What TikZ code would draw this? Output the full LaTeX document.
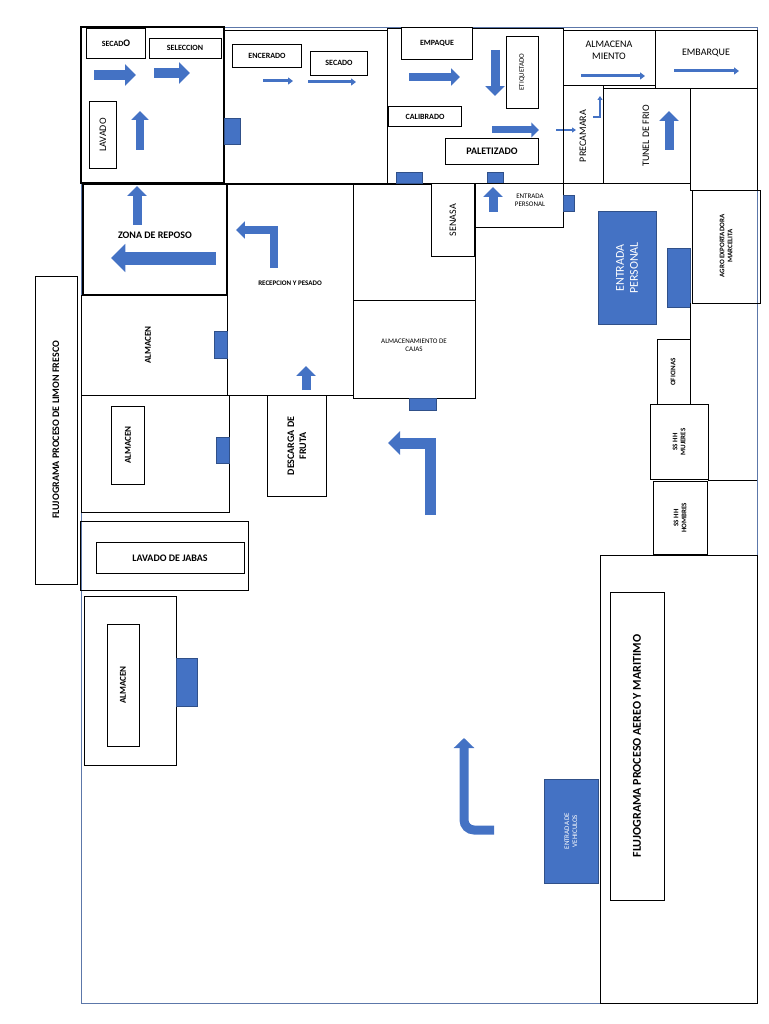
\documentclass[tikz,border=0pt]{standalone}
\usepackage{fontspec}
\setmainfont{Carlito}
\usetikzlibrary{arrows.meta}
\definecolor{flow}{HTML}{4472C4}
\tikzset{
  room/.style={draw=black, line width=0.8pt},
  lbl/.style={draw=black, line width=1pt, fill=white, align=center, font=\bfseries\footnotesize},
  door/.style={fill=flow, draw=flow!70!black},
  fat/.style={flow, line width=#1, -{Triangle[width=2.1*#1, length=1.1*#1]}},
  thin/.style={flow, line width=3pt, -{Triangle[width=7pt, length=5pt]}},
}
\begin{document}
\begin{tikzpicture}[x=1pt, y=-1pt]
\useasboundingbox (0,0) rectangle (768,1024);
% outer frame
\draw[flow!60!gray, line width=0.8pt] (81,27) rectangle (757,1003);
% top row
\draw[room, line width=1.2pt] (81,27) rectangle (224,183);
\node[lbl, minimum width=59pt, minimum height=30pt, line width=0.6pt] (secado1) at (116,43) {SECAD\normalsize O};
\node[lbl, minimum width=72pt, minimum height=20pt, line width=0.6pt] (seleccion) at (185,48) {SELECCION};
\node[lbl, minimum width=67pt, minimum height=27pt, rotate=90, font=\normalsize] (lavado) at (103,135) {LAVADO};
\draw[fat=10pt] (94,75) -- (136,75);
\draw[fat=10pt] (154,73) -- (190,73);
\draw[fat=8pt] (140,150) -- (140,111);
\draw[room] (224,30) rectangle (387,183);
\node[lbl, minimum width=69pt, minimum height=23pt] (encerado) at (267,56) {ENCERADO};
\node[lbl, minimum width=57pt, minimum height=24pt, line width=0.8pt] (secado2) at (339,63) {SECADO};
\draw[thin] (263,81) -- (293,81);
\draw[thin] (308,82) -- (356,82);
\draw[door] (224,118) rectangle (240,144);
\draw[room] (387,28) rectangle (563,183);
\node[lbl, minimum width=71pt, minimum height=32pt, line width=0.6pt] (empaque) at (437,43) {EMPAQUE};
\node[lbl, minimum width=72pt, minimum height=32pt, rotate=90, font=\scriptsize, line width=0.6pt] (etiquetado) at (522,72) {ETIQUETADO};
\node[lbl, minimum width=73pt, minimum height=20pt] (calibrado) at (425,117) {CALIBRADO};
\node[lbl, minimum width=93pt, minimum height=26pt, font=\bfseries\normalsize, line width=0.6pt] (paletizado) at (492,151) {PALETIZADO};
\draw[fat=8pt] (409,77) -- (460,77);
\draw[fat=9pt] (495,50) -- (495,96);
\draw[fat=7pt] (492,130) -- (539,130);
\draw[flow, line width=1.5pt, -{Triangle[width=5pt, length=4pt]}] (556,130) -- (576,130);
\draw[door] (396,172) rectangle (422,183);
\draw[door] (487,172) rectangle (503,183);
\draw[room] (563,30) rectangle (655,85);
\node[align=center, font=\normalsize] (almacenamiento) at (609,50) {ALMACENA\\MIENTO};
\draw[thin] (581,76) -- (645,76);
\draw[room] (655,30) rectangle (757,88);
\node[font=\normalsize] (embarque) at (706,53) {EMBARQUE};
\draw[thin] (674,71) -- (739,71);
\draw[room] (563,85) rectangle (603,183);
\node[rotate=90, font=\normalsize] (precamara) at (583,136) {PRECAMARA};
\draw[flow, line width=1.5pt, -{Triangle[width=5pt, length=4pt]}] (593,117) -- (600,117) -- (600,96);
\draw[room] (603,88) rectangle (690,183);
\node[rotate=90, font=\normalsize] (tunel) at (646,136) {TUNEL DE FRIO};
\draw[fat=9pt] (669,150) -- (669,111);
\draw[room] (690,88) rectangle (757,190);
\draw[room] (692,190) rectangle (760,303);
\node[rotate=90, font=\bfseries\scriptsize, align=center] (agro) at (726,246) {AGRO EXPORTADORA\\MARCELITA};
% second row
\draw[room, line width=1.4pt] (83,184) rectangle (227,295);
\node[font=\bfseries\normalsize] (reposo) at (155,235) {ZONA DE REPOSO};
\draw[fat=9pt] (137,225) -- (137,186);
\draw[fat=13pt] (216,258) -- (111,258);
\draw[room] (227,184) rectangle (353,395);
\node[font=\bfseries\scriptsize] (recepcion) at (290,283) {RECEPCION Y PESADO};
\draw[fat=8pt] (274,268) -- (274,230) -- (236,230);
\draw[fat=9pt] (306,390) -- (306,366);
\draw[room] (353,184) rectangle (475,300);
\node[lbl, minimum width=73pt, minimum height=43pt, rotate=90, font=\normalsize, line width=0.8pt] (senasa) at (453,220) {SENASA};
\draw[room] (475,183) rectangle (563,227);
\node[align=center, font=\scriptsize] (entrada1) at (530,200) {ENTRADA\\PERSONAL};
\draw[fat=9pt] (493,212) -- (493,187);
\draw[door] (563,195) rectangle (574,211);
\draw[room] (353,300) rectangle (475,398);
\node[align=center, font=\scriptsize] (cajas) at (414,345) {ALMACENAMIENTO DE\\CAJAS};
\draw[door] (409,398) rectangle (436,410);
\node[door, minimum width=113pt, minimum height=58pt, rotate=90, inner sep=0pt, text=white, align=center, font=\large] (entrada2) at (627,268) {ENTRADA\\PERSONAL};
\draw[door] (667,248) rectangle (690,307);
\draw[room] (81,295) rectangle (227,395);
\node[rotate=90, font=\bfseries\small] (almacen1) at (148,345) {ALMACEN};
\draw[door] (214,331) rectangle (227,358);
\draw[room] (81,395) rectangle (229,512);
\node[lbl, minimum width=78pt, minimum height=33pt, rotate=90, font=\bfseries\small, line width=0.6pt] (almacen2) at (128,445) {ALMACEN};
\draw[door] (216,437) rectangle (229,463);
\node[lbl, minimum width=101pt, minimum height=59pt, rotate=90, font=\bfseries\normalsize, line width=0.6pt] (descarga) at (297,446) {DESCARGA DE\\FRUTA};
\draw[fat=11pt] (430,515) -- (430,443) -- (388,443);
\draw[room] (657,339) rectangle (690,405);
\node[rotate=90, font=\bfseries\scriptsize] (oficinas) at (673,372) {OFICINAS};
\node[lbl, minimum width=75pt, minimum height=58pt, rotate=90, font=\bfseries\scriptsize, line width=0.6pt] (mujeres) at (679,442) {SS HH\\MUJERES};
\node[lbl, minimum width=73pt, minimum height=54pt, rotate=90, font=\bfseries\scriptsize, line width=0.6pt] (hombres) at (680,518) {SS HH\\HOMBRES};
\draw[room] (690,303) -- (690,405) (708,480) -- (757,480) (707,555) -- (757,555);
% left column
\node[lbl, minimum width=308pt, minimum height=42pt, rotate=90, font=\bfseries\normalsize] (titulo1) at (56,430) {FLUJOGRAMA PROCESO DE LIMON FRESCO};
\draw[room] (80,521) rectangle (248,590);
\node[lbl, minimum width=148pt, minimum height=31pt, font=\bfseries\normalsize] (jabas) at (170,558) {LAVADO DE JABAS};
\draw[room] (84,596) rectangle (176,765);
\node[lbl, minimum width=122pt, minimum height=32pt, rotate=90, font=\bfseries\small, line width=0.6pt] (almacen3) at (123,685) {ALMACEN};
\draw[door] (176,658) rectangle (197,706);
% bottom
\draw[flow, line width=9pt, rounded corners=10pt, -{Triangle[width=20pt, length=10pt]}] (494,830) -- (464,830) -- (464,738);
\node[door, minimum width=104pt, minimum height=54pt, rotate=90, inner sep=0pt, text=white, align=center, font=\scriptsize] (vehiculos) at (571,831) {ENTRADA DE\\VEHICULOS};
\draw[room] (600,555) rectangle (757,1003);
\node[lbl, minimum width=308pt, minimum height=54pt, rotate=90, font=\bfseries\large] (titulo2) at (637,746) {FLUJOGRAMA PROCESO AEREO Y MARITIMO};
\end{tikzpicture}
\end{document}
